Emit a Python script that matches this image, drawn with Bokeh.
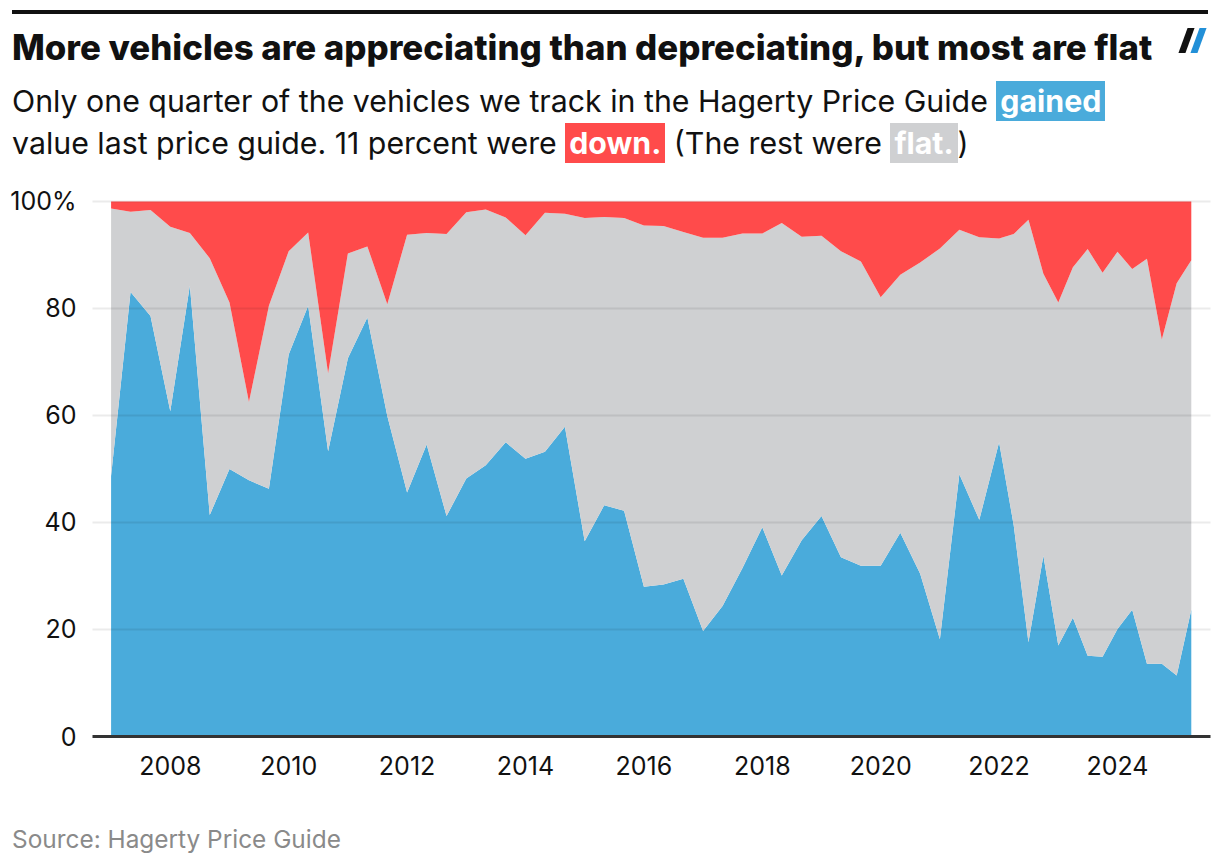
import pandas as pd
from bokeh.plotting import figure
from bokeh.models import ColumnDataSource, FixedTicker, Div, Range1d
from bokeh.layouts import column
from bokeh.embed import file_html
from bokeh.resources import INLINE

# ---------------- data ----------------
dates = [
    "2007-01-01", "2007-05-01", "2007-09-01",
    "2008-01-01", "2008-05-01", "2008-09-01",
    "2009-01-01", "2009-05-01", "2009-09-01",
    "2010-01-01", "2010-05-01", "2010-09-01",
    "2011-01-01", "2011-05-01", "2011-09-01",
    "2012-01-01", "2012-05-01", "2012-09-01",
    "2013-01-01", "2013-05-01", "2013-09-01",
    "2014-01-01", "2014-05-01", "2014-09-01",
    "2015-01-01", "2015-05-01", "2015-09-01",
    "2016-01-01", "2016-05-01", "2016-09-01",
    "2017-01-01", "2017-05-01", "2017-09-01",
    "2018-01-01", "2018-05-01", "2018-09-01",
    "2019-01-01", "2019-05-01", "2019-09-01",
    "2020-01-01", "2020-05-01", "2020-09-01",
    "2021-01-01", "2021-05-01", "2021-09-01",
    "2022-01-01", "2022-04-01", "2022-07-01", "2022-10-01",
    "2023-01-01", "2023-04-01", "2023-07-01", "2023-10-01",
    "2024-01-01", "2024-04-01", "2024-07-01", "2024-10-01",
    "2025-01-01", "2025-04-01",
]

gained = [48.7, 83.1, 78.6, 60.8, 84.3, 41.4, 50.0, 47.9, 46.3, 71.4,
          80.5, 53.3, 70.7, 78.3, 59.9, 45.6, 54.6, 41.2, 48.2, 50.7,
          55.0, 51.9, 53.2, 57.9, 36.5, 43.2, 42.2, 28.0, 28.4, 29.5,
          19.7, 24.4, 31.5, 39.1, 30.1, 36.7, 41.2, 33.5, 31.9, 31.9,
          38.1, 30.4, 18.2, 49.0, 40.5, 55.0, 39.5, 17.6, 33.8, 17.0,
          22.2, 15.1, 14.9, 20.1, 23.7, 13.6, 13.6, 11.4, 23.7]

flat = [50.0, 15.0, 19.8, 34.5, 9.8, 48.0, 31.1, 14.6, 34.2, 19.3,
        13.7, 14.6, 19.6, 13.3, 20.9, 48.2, 39.5, 52.7, 49.8, 47.8,
        42.0, 41.8, 44.7, 39.8, 60.4, 53.9, 54.7, 67.5, 67.0, 64.8,
        73.5, 68.8, 62.5, 54.9, 65.9, 56.7, 52.4, 57.2, 56.9, 50.2,
        48.2, 58.2, 73.0, 45.7, 52.8, 38.1, 54.4, 79.0, 52.7, 64.1,
        65.5, 76.0, 71.8, 70.5, 63.7, 75.7, 60.6, 73.3, 65.3]

down = [1.3, 1.9, 1.6, 4.7, 5.9, 10.6, 18.9, 37.5, 19.5, 9.3,
        5.8, 32.1, 9.7, 8.4, 19.2, 6.2, 5.9, 6.1, 2.0, 1.5,
        3.0, 6.3, 2.1, 2.3, 3.1, 2.9, 3.1, 4.5, 4.6, 5.7,
        6.8, 6.8, 6.0, 6.0, 4.0, 6.6, 6.4, 9.3, 11.2, 17.9,
        13.7, 11.4, 8.8, 5.3, 6.7, 6.9, 6.1, 3.4, 13.5, 18.9,
        12.3, 8.9, 13.3, 9.4, 12.6, 10.7, 25.8, 15.3, 11.0]

x_tick_years = [2008, 2010, 2012, 2014, 2016, 2018, 2020, 2022, 2024]
y_ticks = [0, 20, 40, 60, 80, 100]
y_tick_labels = {100: "100%"}

# ---------------- build ----------------
dt = pd.to_datetime(dates)
xyear = [d.year + (d.dayofyear - 1) / (366 if d.is_leap_year else 365) for d in dt]
source = ColumnDataSource(dict(x=xyear, gained=gained, flat=flat, down=down))

FONT = "Inter"
BLUE = "#4aabdb"
GRAY = "#cfd0d2"
RED = "#ff4b4b"

p = figure(width=1220, height=615, output_backend="svg", toolbar_location=None,
           x_range=Range1d(2006.686, 2025.571), y_range=Range1d(0, 100.37),
           min_border_left=92, min_border_right=10, min_border_top=14,
           min_border_bottom=64)
p.outline_line_color = None
p.background_fill_color = "white"
p.border_fill_color = "white"

p.varea_stack(["gained", "flat", "down"], x="x", source=source,
              color=[BLUE, GRAY, RED])

p.xgrid.grid_line_color = None
p.ygrid.ticker = FixedTicker(ticks=y_ticks)
p.ygrid.grid_line_color = "black"
p.ygrid.grid_line_alpha = 0.08
p.ygrid.grid_line_width = 2
p.ygrid.level = "annotation"

p.yaxis.ticker = FixedTicker(ticks=y_ticks)
p.yaxis.major_label_overrides = y_tick_labels
p.yaxis.axis_line_color = None
p.yaxis.major_tick_line_color = None
p.yaxis.minor_tick_line_color = None
p.yaxis.major_label_standoff = 10
p.yaxis.major_label_text_font = FONT
p.yaxis.major_label_text_font_size = "25px"
p.yaxis.major_label_text_color = "#111111"

p.xaxis.ticker = FixedTicker(ticks=x_tick_years)
p.xaxis.axis_line_color = "#333333"
p.xaxis.axis_line_width = 3
p.xaxis.major_tick_line_color = None
p.xaxis.minor_tick_line_color = None
p.xaxis.major_label_standoff = 13
p.xaxis.major_label_text_font = FONT
p.xaxis.major_label_text_font_size = "25px"
p.xaxis.major_label_text_color = "#111111"

box = "color:#ffffff;font-weight:700;padding:2px 4px;"
header_html = f"""
<div style="position:relative;width:1220px;height:185px;font-family:'{FONT}';color:#111111;">
  <div style="position:absolute;left:12px;top:10px;width:1196px;height:4px;background:#111111;"></div>
  <div style="position:absolute;left:12px;top:26px;font-size:34.8px;font-weight:800;line-height:42px;white-space:nowrap;">More vehicles are appreciating than depreciating, but most are flat</div>
  <div style="position:absolute;left:1183px;top:28px;width:7px;height:25px;background:#111111;transform:skewX(-20deg);"></div>
  <div style="position:absolute;left:1195px;top:28px;width:7px;height:25px;background:#2290d8;transform:skewX(-20deg);"></div>
  <div style="position:absolute;left:12px;top:80px;font-size:30.3px;line-height:42px;white-space:nowrap;">Only one quarter of the vehicles we track in the Hagerty Price Guide <span style="background:{BLUE};{box}">gained</span><br>value last price guide. 11 percent were <span style="background:{RED};{box}">down.</span> (The rest were <span style="background:{GRAY};{box}">flat.</span>)</div>
</div>
"""
header = Div(text=header_html, width=1220, height=185, margin=(0, 0, 0, 0))

footer_html = f"""
<div style="position:relative;width:1220px;height:66px;font-family:'{FONT}';">
  <div style="position:absolute;left:12px;top:24px;font-size:24.4px;line-height:30px;color:#8a8a8a;white-space:nowrap;">Source: Hagerty Price Guide</div>
</div>
"""
footer = Div(text=footer_html, width=1220, height=66, margin=(0, 0, 0, 0))

layout = column(header, p, footer, spacing=0, margin=(0, 0, 0, 0))

open("out.html", "w").write(file_html(layout, INLINE))
